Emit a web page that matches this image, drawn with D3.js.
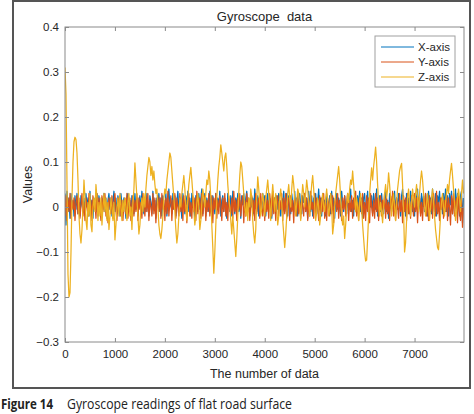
<!DOCTYPE html>
<html>
<head>
<meta charset="utf-8">
<script src="https://cdn.jsdelivr.net/npm/d3@7"></script>
<style>
  body { margin: 0; background: #fff; }
  svg { display: block; font-family: "Liberation Sans", Arial, sans-serif; }
</style>
</head>
<body>
<div id="chart"></div>
<script>
// one value every 20 samples
const sampleStep = 20;

const xTicks = [0, 1000, 2000, 3000, 4000, 5000, 6000, 7000];
const yTicks = [-0.3, -0.2, -0.1, 0, 0.1, 0.2, 0.3, 0.4];

const seriesNames = ["X-axis", "Y-axis", "Z-axis"];
const seriesColors = ["#0072BD", "#D95319", "#EDB120"];

const xAxisValues = [
  0.03,-0.04,0.035,-0.01,0.02,-0.025,0.03,0.0,0.015,-0.02,0.025,-0.005,0.03,-0.015,0.01,-0.02,0.025,0.005,-0.01,0.02,
  -0.015,0.03,0.0,0.02,-0.02,0.035,-0.005,0.015,-0.025,0.02,0.005,-0.01,0.03,-0.02,0.025,0.0,-0.015,0.02,-0.005,0.03,
  -0.01,0.02,-0.025,0.015,0.03,-0.005,0.02,-0.02,0.01,0.035,-0.01,0.02,-0.015,0.025,0.0,-0.02,0.03,0.005,-0.01,0.02,
  0.0,-0.025,0.02,0.03,-0.01,0.015,-0.02,0.025,0.005,-0.015,0.03,-0.005,0.02,-0.02,0.01,0.025,-0.01,0.035,0.0,-0.015,
  0.02,-0.01,0.03,0.0,-0.02,0.025,0.01,-0.015,0.035,-0.005,0.015,-0.025,0.02,0.005,0.03,-0.01,0.02,-0.02,0.025,0.0,
  -0.01,0.03,-0.02,0.015,0.04,0.0,0.02,-0.015,0.03,-0.005,0.025,-0.02,0.01,0.035,-0.01,0.02,0.0,-0.025,0.03,0.01,
  -0.015,0.025,0.005,0.035,-0.01,0.02,-0.02,0.03,0.0,0.015,-0.025,0.025,0.01,-0.01,0.03,-0.005,0.02,0.04,-0.015,0.01,
  0.03,-0.02,0.02,0.005,-0.01,0.035,0.0,-0.02,0.025,0.01,-0.015,0.03,-0.005,0.02,0.0,0.035,-0.02,0.015,0.025,-0.01,
  0.02,0.0,-0.025,0.03,0.01,-0.01,0.025,-0.02,0.035,0.005,-0.015,0.02,0.0,0.03,-0.01,0.015,-0.025,0.025,0.005,0.03,
  -0.01,0.02,0.035,-0.005,0.015,-0.02,0.03,0.0,0.02,-0.015,0.04,0.01,-0.01,0.025,-0.02,0.02,0.005,-0.01,0.03,0.0,
  0.025,-0.02,0.01,0.03,-0.01,0.02,0.0,-0.025,0.035,0.005,0.02,-0.015,0.025,-0.005,0.03,0.01,-0.02,0.02,0.0,0.035,
  -0.01,0.015,0.03,-0.02,0.025,0.0,-0.015,0.03,0.01,-0.01,0.035,-0.005,0.02,-0.02,0.015,0.03,0.0,-0.015,0.025,0.01,
  0.03,-0.01,0.02,-0.025,0.035,0.005,-0.01,0.025,-0.02,0.02,0.0,0.03,-0.015,0.01,0.04,-0.005,0.02,-0.02,0.03,0.0,
  0.015,-0.02,0.03,0.01,-0.01,0.025,-0.015,0.035,0.0,0.02,-0.025,0.015,0.03,-0.005,0.02,0.0,-0.02,0.035,0.01,-0.01,
  0.025,0.0,-0.015,0.03,-0.005,0.02,0.04,-0.01,0.015,-0.02,0.03,0.005,-0.015,0.025,0.0,0.035,-0.01,0.02,-0.025,0.02,
  0.03,-0.01,0.01,0.035,-0.02,0.02,0.0,0.025,-0.015,0.03,0.01,-0.005,0.04,-0.02,0.015,0.025,-0.01,0.03,0.0,-0.015,
  0.02,0.035,-0.01,0.015,-0.025,0.03,0.005,-0.01,0.025,0.0,0.035,-0.015,0.02,-0.005,0.03,0.01,-0.02,0.025,0.04,-0.01,
  0.015,-0.02,0.03,0.0,0.02,-0.015,0.035,0.01,-0.01,0.025,-0.02,0.03,0.005,0.04,-0.005,0.02,-0.015,0.03,0.0,0.025,
  -0.01,0.03,0.01,-0.02,0.035,0.0,0.02,-0.015,0.04,0.005,-0.01,0.03,-0.02,0.025,0.01,0.035,-0.005,0.02,-0.015,0.03,
  0.0,0.04,-0.01,0.025,-0.02,0.03,0.005,0.035,-0.015,0.02,0.0,0.04,-0.01,0.03,0.01,-0.02,0.025,0.035,-0.035,0.02,
];

const yAxisValues = [
  -0.02,0.025,-0.03,0.02,-0.01,0.03,-0.025,0.015,-0.005,0.02,-0.03,0.01,0.025,-0.015,0.02,-0.025,0.005,0.03,-0.02,0.01,
  -0.03,0.02,0.0,-0.02,0.03,-0.01,0.015,-0.03,0.025,-0.005,0.01,-0.025,0.03,-0.015,0.02,0.0,-0.03,0.025,-0.01,0.015,
  0.03,-0.02,0.01,-0.035,0.02,0.005,-0.015,0.025,-0.025,0.01,0.03,-0.01,-0.03,0.02,0.0,0.025,-0.02,0.015,-0.03,0.01,
  0.02,-0.015,0.03,-0.025,0.005,0.02,-0.03,0.01,0.025,-0.02,0.015,-0.01,0.03,-0.03,0.02,-0.005,0.01,-0.025,0.03,0.0,
  -0.02,0.025,-0.01,0.03,-0.03,0.015,0.0,-0.02,0.03,-0.015,0.02,-0.035,0.01,0.025,-0.01,0.02,-0.025,0.03,-0.005,0.015,
  -0.03,0.02,-0.015,0.035,-0.02,0.01,0.025,-0.03,0.015,-0.005,0.03,-0.025,0.02,0.0,-0.02,0.03,-0.01,0.02,-0.03,0.025,
  -0.01,0.015,-0.035,0.02,0.03,-0.02,0.01,-0.025,0.025,-0.01,0.02,-0.03,0.035,-0.015,0.005,0.02,-0.025,0.03,-0.02,0.01,
  0.025,-0.03,0.015,-0.01,0.03,-0.02,0.0,0.025,-0.035,0.02,-0.005,0.03,-0.025,0.015,-0.015,0.025,0.005,-0.03,0.02,-0.01,
  0.03,-0.02,0.01,-0.03,0.025,0.0,-0.015,0.02,-0.025,0.035,-0.01,0.015,-0.03,0.02,-0.005,0.03,-0.02,0.01,0.025,-0.035,
  0.015,-0.02,0.03,-0.01,0.02,-0.03,0.005,0.025,-0.02,0.015,-0.03,0.03,-0.015,0.01,0.02,-0.025,0.03,-0.005,-0.02,0.02,
  -0.03,0.025,-0.01,0.015,-0.025,0.03,0.0,-0.02,0.035,-0.015,0.02,-0.03,0.01,0.025,-0.02,0.015,-0.005,0.03,-0.03,0.02,
  -0.015,0.03,-0.025,0.01,0.02,-0.03,0.025,-0.01,0.015,-0.035,0.02,0.005,-0.02,0.03,-0.015,0.01,-0.025,0.025,0.0,-0.02,
  0.03,-0.01,0.02,-0.03,0.015,-0.02,0.035,-0.005,0.01,-0.025,0.03,-0.02,0.02,0.0,-0.03,0.025,-0.015,0.02,-0.01,0.03,
  -0.025,0.015,-0.03,0.02,0.005,-0.02,0.03,-0.015,0.025,-0.035,0.01,0.02,-0.01,0.03,-0.025,0.015,0.0,-0.03,0.02,-0.005,
  0.025,-0.02,0.01,0.03,-0.03,0.015,-0.01,0.025,-0.025,0.02,-0.005,0.035,-0.02,0.01,-0.03,0.02,0.005,-0.015,0.03,-0.025,
  0.01,-0.03,0.025,-0.01,0.02,-0.035,0.03,0.0,-0.02,0.015,-0.025,0.03,-0.01,0.02,-0.03,0.01,0.025,-0.02,0.015,-0.005,
  0.03,-0.025,0.02,-0.015,0.01,-0.03,0.025,-0.005,0.035,-0.02,0.015,-0.03,0.02,0.0,-0.025,0.03,-0.01,0.015,-0.035,0.025,
  -0.01,0.02,-0.03,0.03,-0.015,0.01,-0.025,0.025,0.0,-0.02,0.03,-0.01,0.02,-0.035,0.015,0.025,-0.02,0.01,-0.03,0.02,
  0.0,0.03,-0.02,0.015,-0.03,0.025,-0.01,0.02,-0.025,0.03,0.005,-0.02,0.035,-0.015,0.01,-0.03,0.02,-0.005,0.025,-0.025,
  0.015,-0.01,0.03,-0.03,0.02,0.0,-0.04,0.025,-0.015,0.03,-0.02,0.01,0.02,-0.035,0.025,-0.01,-0.03,0.02,-0.045,0.0,
];

const zAxisValues = [
  0.31,0.25,0.05,-0.15,-0.2,-0.19,-0.1,0.02,0.1,0.145,0.155,0.15,0.12,0.06,-0.02,-0.06,-0.08,-0.05,0.0,0.06,
  0.02,-0.03,-0.05,0.01,-0.02,0.03,-0.04,-0.055,0.0,0.02,-0.01,0.05,0.02,-0.03,0.01,-0.02,0.02,-0.04,0.0,0.03,
  -0.01,0.02,-0.03,0.01,-0.05,-0.02,0.02,0.0,-0.03,0.01,-0.073,-0.04,0.0,0.02,-0.02,0.03,0.0,-0.03,0.015,-0.01,
  0.02,0.0,-0.03,0.01,0.03,-0.02,0.0,-0.05,0.01,0.04,0.098,0.06,0.02,-0.02,-0.06,-0.04,0.0,0.02,-0.01,0.03,
  0.0,0.04,0.07,0.09,0.11,0.1,0.07,0.09,0.06,0.08,0.05,0.03,0.04,0.0,-0.04,-0.06,-0.07,-0.05,-0.02,0.02,
  0.04,0.03,0.06,0.08,0.1,0.12,0.11,0.08,0.05,0.02,-0.01,-0.05,-0.08,-0.06,-0.02,0.02,0.0,0.03,0.05,0.07,
  0.04,0.0,-0.03,0.02,0.05,0.07,0.088,0.06,0.03,-0.01,-0.04,-0.02,0.01,0.03,0.0,-0.05,-0.03,0.01,0.04,0.02,
  0.0,0.03,0.06,0.05,0.08,0.06,0.02,-0.04,-0.09,-0.147,-0.1,-0.04,0.02,0.06,0.09,0.11,0.138,0.12,0.1,0.08,
  0.11,0.12,0.09,0.05,0.02,0.0,-0.03,-0.06,-0.02,-0.05,-0.08,-0.11,-0.07,-0.02,0.03,0.07,0.1,0.09,0.06,0.03,
  0.0,-0.02,0.01,-0.03,0.02,0.0,0.04,0.02,-0.03,-0.06,-0.08,-0.05,0.02,0.067,0.04,0.01,-0.02,0.0,0.03,0.01,
  -0.02,0.02,0.04,0.06,0.03,0.0,-0.03,0.02,0.05,0.02,-0.01,0.03,0.0,-0.04,-0.02,0.02,0.04,0.01,-0.03,-0.06,
  -0.09,-0.06,-0.02,0.03,0.05,0.02,0.0,0.04,0.07,0.05,0.02,-0.02,0.01,0.04,0.03,0.0,-0.03,0.02,0.05,0.03,
  0.0,0.03,0.06,0.04,0.01,-0.02,0.02,0.05,0.07,0.04,0.0,-0.03,-0.01,0.02,0.0,-0.04,-0.02,0.01,0.03,0.0,
  -0.01,0.02,0.04,0.01,-0.02,0.0,0.03,0.0,-0.06,-0.04,0.0,0.03,0.05,0.07,0.09,0.06,0.02,-0.02,-0.04,-0.02,
  -0.07,-0.04,0.0,0.03,0.01,0.04,0.06,0.05,0.08,0.05,0.02,-0.01,0.02,0.0,-0.03,0.01,0.03,0.0,-0.04,-0.07,
  -0.1,-0.12,-0.118,-0.07,-0.02,0.03,0.06,0.087,0.06,0.09,0.11,0.133,0.1,0.05,0.01,-0.02,0.01,-0.01,-0.035,0.0,
  0.03,0.05,0.02,0.04,0.076,0.05,0.02,-0.02,0.01,0.03,0.0,-0.03,0.01,0.04,0.06,0.08,0.09,0.097,0.05,-0.01,
  -0.1,-0.08,-0.03,0.02,0.04,0.01,-0.02,0.01,0.04,0.02,0.0,0.03,0.05,0.02,-0.01,0.03,0.06,0.08,0.06,0.03,
  0.0,-0.02,0.01,0.03,0.0,-0.03,0.0,0.02,0.04,0.01,-0.02,-0.05,-0.07,-0.09,-0.095,-0.06,-0.02,0.01,0.03,0.0,
  -0.02,0.01,0.03,0.05,0.03,0.06,0.08,0.097,0.07,0.04,0.01,-0.03,-0.01,0.02,0.04,0.02,-0.01,0.03,0.06,0.03,
];

const chartTitle = "Gyroscope  data";
const xLabel = "The number of data";
const yLabel = "Values";
const captionLead = "Figure 14";
const captionText = "Gyroscope readings of flat road surface";

const width = 474,
  height = 414;
const margin = { top: 27, right: 10, bottom: 72, left: 65 };
const plotW = width - margin.left - margin.right,
  plotH = height - margin.top - margin.bottom;

const svg = d3
  .select("#chart")
  .append("svg")
  .attr("width", width)
  .attr("height", height);

// figure frame (the grey box around the whole matlab figure)
svg
  .append("rect")
  .attr("x", 13)
  .attr("y", 1)
  .attr("width", 457)
  .attr("height", 387)
  .attr("fill", "#fff")
  .attr("stroke", "#555")
  .attr("stroke-width", 2);

const x = d3
  .scaleLinear()
  .domain([0, (zAxisValues.length - 1) * sampleStep])
  .range([0, plotW - 0.5]);

const y = d3.scaleLinear().domain([-0.3, 0.4]).range([plotH, 0]);

const g = svg
  .append("g")
  .attr("transform", `translate(${margin.left},${margin.top})`);

// clip so lines never leave the axes box
g.append("clipPath")
  .attr("id", "clip")
  .append("rect")
  .attr("width", plotW)
  .attr("height", plotH);

const line = d3
  .line()
  .x((d, i) => x(i * sampleStep))
  .y((d) => y(d));

const allSeries = [xAxisValues, yAxisValues, zAxisValues];

g.append("g")
  .attr("clip-path", "url(#clip)")
  .selectAll("path")
  .data(allSeries)
  .join("path")
  .attr("fill", "none")
  .attr("stroke", (d, i) => seriesColors[i])
  .attr("stroke-width", 1.25)
  .attr("stroke-linejoin", "round")
  .attr("d", line);

// axes: ticks point inward on all four sides, like matlab with box on
const axisColor = "#8a8a8a";
const tickLen = 4;

const styleAxis = (sel) => {
  sel.select(".domain").remove();
  sel.selectAll(".tick line").attr("stroke", axisColor);
  sel
    .selectAll(".tick text")
    .attr("fill", "#262626")
    .attr("font-size", 11.5);
};

g.append("g")
  .attr("transform", `translate(0,${plotH})`)
  .call(
    d3
      .axisBottom(x)
      .tickValues(xTicks)
      .tickSize(-tickLen)
      .tickPadding(8)
      .tickFormat(d3.format("d"))
  )
  .call(styleAxis);

g.append("g")
  .call(d3.axisTop(x).tickValues(xTicks).tickSize(-tickLen).tickFormat(""))
  .call(styleAxis);

g.append("g")
  .call(
    d3
      .axisLeft(y)
      .tickValues(yTicks)
      .tickSize(-tickLen)
      .tickPadding(6)
      .tickFormat((d) => (d === 0 ? "0" : d3.format(".1f")(d)))
  )
  .call(styleAxis);

g.append("g")
  .attr("transform", `translate(${plotW},0)`)
  .call(d3.axisRight(y).tickValues(yTicks).tickSize(-tickLen).tickFormat(""))
  .call(styleAxis);

g.append("rect")
  .attr("x", 0)
  .attr("y", 0)
  .attr("width", plotW)
  .attr("height", plotH)
  .attr("fill", "none")
  .attr("stroke", axisColor)
  .attr("stroke-width", 1);

// title and axis labels
svg
  .append("text")
  .attr("x", margin.left + plotW / 2)
  .attr("y", 21)
  .attr("text-anchor", "middle")
  .attr("font-size", 13)
  .attr("fill", "#262626")
  .style("white-space", "pre")
  .text(chartTitle);

svg
  .append("text")
  .attr("x", margin.left + plotW / 2)
  .attr("y", 378)
  .attr("text-anchor", "middle")
  .attr("font-size", 12.5)
  .attr("fill", "#262626")
  .text(xLabel);

svg
  .append("text")
  .attr("transform", `translate(32,${margin.top + plotH / 2}) rotate(-90)`)
  .attr("text-anchor", "middle")
  .attr("font-size", 12.5)
  .attr("fill", "#262626")
  .text(yLabel);

// legend
const legend = svg.append("g").attr("transform", "translate(375,36)");

legend
  .append("rect")
  .attr("width", 80)
  .attr("height", 51)
  .attr("fill", "#fff")
  .attr("stroke", "#a0a0a0");

const rows = legend
  .selectAll("g.row")
  .data(seriesNames)
  .join("g")
  .attr("class", "row")
  .attr("transform", (d, i) => `translate(0,${11 + i * 15})`);

rows
  .append("line")
  .attr("x1", 6)
  .attr("x2", 39)
  .attr("stroke", (d, i) => seriesColors[i])
  .attr("stroke-width", 1);

rows
  .append("text")
  .attr("x", 43)
  .attr("dy", "0.35em")
  .attr("font-size", 11.5)
  .attr("fill", "#262626")
  .text((d) => d);

// caption below the figure
const caption = svg
  .append("text")
  .attr("x", 1)
  .attr("y", 409)
  .attr("font-family", "'Open Sans', sans-serif")
  .attr("font-size", 14)
  .attr("fill", "#222");

caption
  .append("tspan")
  .attr("font-weight", "bold")
  .attr("textLength", 52)
  .attr("lengthAdjust", "spacingAndGlyphs")
  .text(captionLead);
caption
  .append("tspan")
  .attr("x", 67)
  .attr("textLength", 225)
  .attr("lengthAdjust", "spacingAndGlyphs")
  .text(captionText);
</script>
</body>
</html>
